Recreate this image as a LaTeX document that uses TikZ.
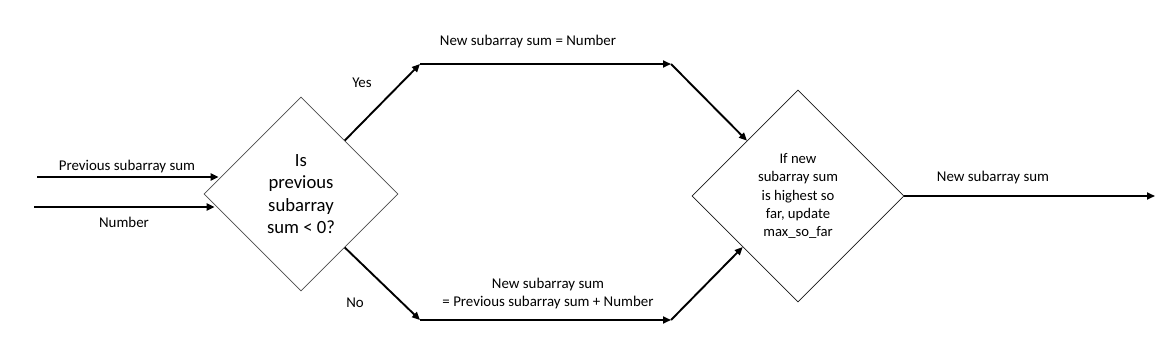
\documentclass[tikz,border=0pt]{standalone}
\usepackage{fontspec}
\setmainfont{Carlito}
\usetikzlibrary{shapes.geometric,arrows.meta,calc}
\tikzset{
  decision/.style={diamond, draw, aspect=1, inner sep=0pt, align=center, line width=0.8pt},
  arr/.style={line width=1.9pt, -{Triangle[length=8pt,width=7pt]}},
  lbl/.style={inner sep=0pt, font=\fontsize{14.9}{18.2}\selectfont, align=center},
}
\begin{document}
\begin{tikzpicture}[x=1pt,y=-1pt]
\useasboundingbox[fill=white] (0,0) rectangle (1173,350);

\node[decision, draw=black!70, minimum width=194pt, minimum height=194pt,
      font=\fontsize{18.67}{22.4}\selectfont] (d1) at (301,194)
      {Is\\previous\\subarray\\sum < 0?};
\node[decision, draw=black!90, minimum width=212pt, minimum height=212pt,
      font=\fontsize{14.67}{18.2}\selectfont] (d2) at (798,196)
      {If new\\subarray sum\\is highest so\\far, update\\max\_so\_far};

% edge points
\coordinate (e1) at ($(d1.west)!0.175!(d1.north)$);
\coordinate (e2) at ($(d1.west)!0.134!(d1.south)$);
\coordinate (y1) at ($(d1.north)!0.45!(d1.east)$);
\coordinate (n1) at ($(d1.south)!0.45!(d1.east)$);
\coordinate (y4) at ($(d2.north)!0.48!(d2.west)$);
\coordinate (n4) at ($(d2.south)!0.52!(d2.west)$);

% free ends and corners
\coordinate (in1) at (37,177);
\coordinate (in2) at (34,207);
\coordinate (y2) at (420,64);
\coordinate (y3) at (671,64);
\coordinate (n2) at (420,320);
\coordinate (n3) at (671,320);
\coordinate (out) at (1155,196);

\draw[arr, shorten >=2pt] (in1) -- (e1 |- in1);
\draw[arr, shorten >=2pt] (in2) -- (e2 |- in2);
\draw[arr] (y1) -- (y2);
\draw[arr] (y2) -- (y3);
\draw[arr] (y3) -- (y4);
\draw[arr] (n1) -- (n2);
\draw[arr] (n2) -- (n3);
\draw[arr] (n3) -- (n4);
\draw[arr] (d2.east) -- (d2.east -| out);

\node[lbl] (lprev) at (127,167) {Previous subarray sum};
\node[lbl] (lnum) at (124,222) {Number};
\node[lbl] (lyes) at (362,83) {Yes};
\node[lbl] (lno) at (355,303) {No};
\node[lbl] (ltop) at (528,42) {New subarray sum = Number};
\node[lbl] (lbot) at (548,293.5) {New subarray sum\\= Previous subarray sum + Number};
\node[lbl] (lout) at (993,178) {New subarray sum};
\end{tikzpicture}
\end{document}
